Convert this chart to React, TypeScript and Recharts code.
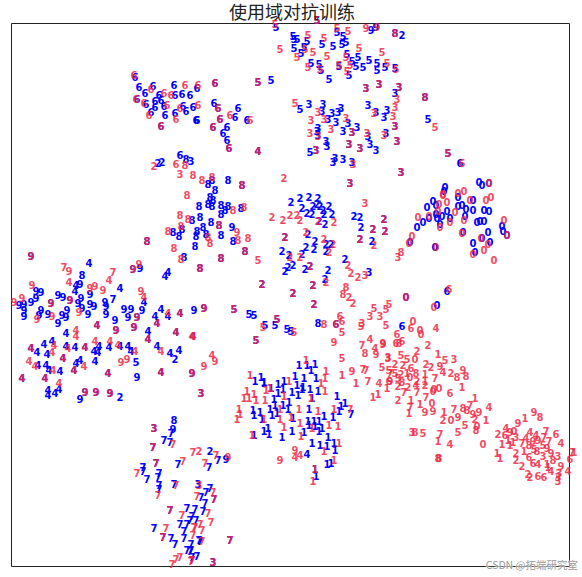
import { ScatterChart, Scatter, XAxis, YAxis, ReferenceArea } from "recharts";

type Pt = [number, number];

// source domain (blue)
const source0: Pt[] = [[444,191],[445,187],[433,201],[458,197],[427,207],[436,205],[458,206],[462,205],[466,209],[473,200],[473,210],[484,210],[489,211],[447,211],[442,216],[436,214],[437,218],[429,218],[423,222],[417,227],[450,218],[465,216],[477,222],[480,221],[484,221],[440,224],[463,232],[488,232],[473,243],[482,238],[490,242],[475,252],[502,226],[503,231],[507,235],[410,242],[435,247],[406,297],[437,305],[479,182],[482,185],[489,183]];
const source1: Pt[] = [[299,365],[307,365],[315,364],[311,370],[295,376],[304,378],[316,378],[261,377],[255,381],[264,382],[278,384],[284,381],[297,385],[303,387],[264,383],[271,388],[283,389],[278,393],[302,389],[310,389],[298,395],[318,391],[337,396],[292,392],[274,399],[275,405],[283,405],[289,402],[288,409],[270,409],[253,410],[254,415],[260,412],[262,419],[272,415],[277,413],[293,418],[309,409],[312,398],[345,403],[341,406],[339,411],[333,417],[324,416],[308,421],[314,421],[319,421],[309,425],[315,426],[322,428],[319,431],[304,432],[292,431],[282,437],[269,434],[264,431],[268,428],[254,435],[328,437],[312,443],[320,445],[327,446],[334,443],[335,450],[327,464],[331,463],[315,469],[316,476]];
const source2: Pt[] = [[158,163],[162,162],[402,35],[175,359],[120,397],[210,451],[300,198],[309,197],[318,198],[291,202],[302,208],[313,206],[317,204],[320,206],[329,206],[323,210],[307,213],[312,214],[324,214],[332,214],[354,216],[360,217],[319,221],[325,224],[361,227],[308,234],[285,237],[315,241],[326,244],[331,244],[372,241],[306,247],[314,249],[326,251],[282,251],[289,255],[302,254],[345,259],[293,265],[288,267],[285,271],[305,269],[328,270],[325,279],[310,266],[373,229],[384,219],[385,231],[360,239],[313,285],[262,284],[293,293],[314,304]];
const source3: Pt[] = [[191,161],[366,88],[379,84],[309,104],[323,104],[322,111],[332,113],[338,112],[341,108],[328,119],[336,122],[348,123],[368,105],[376,112],[387,110],[384,117],[357,127],[343,131],[352,132],[368,136],[386,133],[370,144],[376,150],[318,128],[317,131],[318,135],[326,141],[327,146],[316,150],[335,158],[333,162],[343,159],[352,162],[360,148],[349,144],[350,183],[399,87],[395,93],[395,126],[397,141],[401,172],[369,272],[198,484],[201,393],[154,428],[213,562]];
const source4: Pt[] = [[258,151],[89,263],[168,272],[165,276],[76,285],[75,291],[120,288],[144,302],[161,309],[155,316],[168,316],[180,313],[157,323],[148,331],[148,339],[97,325],[66,333],[52,341],[44,344],[31,348],[37,352],[47,354],[66,346],[75,347],[85,347],[99,346],[94,351],[98,352],[109,347],[120,346],[128,346],[131,351],[157,346],[170,353],[179,350],[63,358],[38,365],[46,365],[49,370],[60,371],[80,360],[76,363],[74,370],[95,361],[108,373],[161,372],[22,378],[45,378],[48,390],[48,395],[55,393],[59,389],[176,332],[193,336],[307,454]];
const source5: Pt[] = [[276,27],[317,20],[293,36],[294,39],[297,39],[307,41],[294,48],[304,47],[301,53],[322,44],[333,46],[337,32],[343,36],[342,44],[346,42],[347,54],[352,61],[358,57],[356,66],[363,67],[369,60],[377,63],[377,70],[385,67],[311,63],[319,64],[329,79],[349,75],[339,66],[321,70],[271,80],[258,82],[300,109],[310,152],[395,68],[428,119],[448,153],[136,362],[234,309],[249,314],[254,315],[265,325],[275,325],[277,319],[287,329],[291,331],[256,340]];
const source6: Pt[] = [[135,77],[139,87],[145,93],[153,86],[159,95],[155,101],[161,100],[155,107],[164,106],[146,104],[137,99],[151,112],[165,115],[175,113],[174,85],[175,95],[182,94],[190,95],[197,88],[183,106],[186,111],[193,107],[197,120],[161,126],[180,155],[215,83],[214,103],[218,108],[238,108],[235,117],[247,120],[196,120],[220,119],[213,127],[227,127],[223,133],[227,140],[229,148],[460,163],[447,291],[402,326],[336,324]];
const source7: Pt[] = [[113,299],[171,433],[164,440],[170,442],[153,447],[178,464],[156,463],[143,467],[143,471],[147,479],[159,473],[158,477],[159,485],[159,489],[174,484],[170,510],[187,508],[195,509],[192,516],[190,520],[196,520],[187,524],[180,524],[154,528],[184,531],[184,538],[163,537],[171,538],[175,544],[191,544],[187,550],[190,551],[197,556],[199,540],[192,560],[351,414],[218,460],[209,467],[210,488],[206,492],[201,497],[214,499],[205,503],[203,511],[230,540],[200,541],[191,550],[192,557]];
const source8: Pt[] = [[395,33],[425,97],[186,159],[208,184],[212,180],[215,190],[228,180],[242,185],[210,197],[213,200],[208,204],[212,206],[199,206],[221,205],[228,206],[225,210],[221,214],[241,208],[200,217],[192,220],[211,222],[219,225],[203,227],[197,231],[196,236],[206,234],[221,235],[195,246],[233,241],[245,251],[221,258],[200,268],[182,229],[173,232],[179,236],[147,241],[184,257],[82,275],[318,323],[174,420]];
const source9: Pt[] = [[371,30],[376,27],[31,256],[133,269],[140,268],[80,284],[90,294],[36,291],[41,292],[19,305],[24,304],[31,302],[36,298],[24,310],[24,316],[58,295],[63,297],[51,303],[70,300],[81,298],[78,303],[82,308],[90,304],[94,306],[105,302],[106,306],[41,310],[39,315],[48,314],[67,310],[62,315],[66,317],[88,314],[106,314],[58,323],[115,320],[124,309],[131,309],[142,310],[128,317],[137,317],[134,327],[116,330],[194,310],[137,377],[192,373],[204,308],[85,392],[96,392],[110,393],[80,399],[173,429],[226,459],[232,227]];

// target domain (red)
const target0: Pt[] = [[443,195],[443,194],[458,193],[464,191],[439,204],[447,202],[438,211],[455,212],[470,200],[486,200],[491,197],[418,217],[429,216],[450,222],[440,227],[464,220],[504,220],[412,236],[409,243],[462,233],[481,238],[488,244],[484,250],[473,254],[494,260],[507,235],[436,247],[406,297],[434,307],[413,321],[420,330],[421,334],[415,359],[410,377],[434,389],[439,388],[433,391],[432,403],[451,420],[477,426],[483,444],[514,431],[489,183]];
const target1: Pt[] = [[438,354],[407,373],[425,374],[425,381],[387,388],[462,387],[475,398],[411,400],[420,404],[409,413],[444,412],[486,420],[438,441],[525,418],[508,440],[502,444],[510,445],[513,442],[497,453],[500,458],[524,451],[574,452],[547,464],[548,467],[306,360],[326,371],[325,378],[321,383],[250,375],[289,381],[270,388],[247,391],[266,390],[244,398],[249,398],[254,394],[256,400],[265,400],[284,396],[239,409],[240,414],[237,419],[264,419],[280,409],[280,419],[291,417],[299,409],[300,423],[318,411],[334,409],[284,427],[312,428],[329,425],[338,426],[301,436],[252,435],[339,443],[324,451],[334,460],[315,469],[313,481],[325,391],[311,398],[373,397],[378,394],[356,383],[342,375]];
const target2: Pt[] = [[154,166],[199,451],[284,178],[272,217],[283,220],[290,215],[297,215],[300,220],[318,221],[334,222],[384,219],[373,229],[385,231],[360,239],[374,245],[306,232],[324,239],[333,244],[329,252],[290,257],[300,257],[285,237],[348,265],[351,273],[358,277],[310,266],[326,282],[313,285],[262,284],[293,293],[314,304],[349,297],[353,303],[428,345],[417,351],[395,364],[403,365],[426,364],[431,367],[451,373],[401,374],[417,381],[425,385],[398,386],[408,387],[398,400],[443,420],[475,419],[498,434],[516,453],[516,460],[522,466],[528,474],[530,477]];
const target3: Pt[] = [[180,174],[318,112],[311,120],[324,119],[346,118],[331,129],[310,133],[318,136],[352,132],[367,133],[384,135],[349,144],[360,148],[316,150],[353,164],[374,113],[350,183],[366,88],[379,84],[399,87],[397,99],[395,107],[393,116],[395,126],[397,141],[401,172],[365,203],[365,275],[398,257],[370,316],[380,316],[362,323],[388,357],[388,358],[454,359],[412,432],[516,437],[558,456],[543,456],[559,473],[558,477],[558,481],[154,428],[201,393],[199,485],[213,562]];
const target4: Pt[] = [[258,151],[69,282],[109,280],[144,297],[168,313],[180,313],[157,323],[176,332],[193,336],[148,339],[97,325],[76,330],[76,336],[54,345],[31,348],[52,352],[68,348],[85,347],[95,341],[110,341],[118,345],[135,351],[161,351],[63,358],[29,361],[35,366],[53,370],[84,366],[74,370],[108,373],[161,372],[22,378],[45,378],[59,383],[192,336],[212,355],[370,339],[375,348],[379,383],[436,328],[443,372],[416,385],[489,407],[450,444],[506,428],[530,432],[536,435],[561,443],[526,438],[538,464],[551,471],[568,471],[295,457],[300,455]];
const target5: Pt[] = [[275,24],[317,20],[308,35],[324,38],[337,28],[348,31],[359,48],[382,52],[387,63],[280,49],[305,49],[313,52],[297,57],[327,56],[346,57],[350,65],[308,67],[320,69],[339,65],[347,71],[258,82],[295,103],[396,69],[435,127],[448,153],[258,260],[389,304],[386,309],[386,325],[374,308],[361,326],[234,309],[277,319],[263,327],[294,332],[256,340],[342,332],[342,358],[382,367],[389,370],[401,355],[407,359],[445,360],[395,373],[398,378],[423,433],[465,425],[458,432],[534,449],[543,445]];
const target6: Pt[] = [[134,75],[151,89],[164,93],[171,95],[185,85],[198,85],[136,99],[144,103],[167,105],[180,108],[149,115],[176,119],[198,105],[161,126],[176,164],[215,83],[218,108],[230,115],[250,120],[220,119],[213,127],[229,148],[462,163],[449,289],[411,328],[397,334],[402,341],[396,343],[340,316],[342,321],[336,324],[411,368],[389,381],[450,393],[505,435],[556,434],[529,457],[570,459],[533,463],[538,476],[544,477]];
const target7: Pt[] = [[64,267],[113,272],[173,444],[153,447],[193,452],[183,461],[156,463],[137,473],[158,495],[176,485],[197,496],[170,510],[182,515],[166,528],[195,527],[193,535],[163,537],[180,557],[176,559],[172,564],[192,560],[362,345],[363,369],[366,370],[368,381],[350,409],[216,455],[205,463],[213,492],[214,499],[208,513],[211,522],[200,524],[202,530],[194,527],[230,540],[202,541],[191,561],[390,373],[435,378],[404,392],[417,392],[426,397],[410,407],[454,409],[470,405],[440,434],[546,431],[544,437],[549,441],[522,443],[572,452]];
const target8: Pt[] = [[395,33],[425,97],[185,165],[193,175],[187,195],[202,180],[212,177],[242,185],[233,210],[244,207],[219,225],[208,237],[210,243],[238,240],[248,238],[245,251],[221,258],[200,268],[180,215],[188,219],[181,226],[168,231],[147,241],[174,248],[181,259],[324,324],[346,287],[343,294],[365,353],[401,252],[399,343],[402,382],[416,373],[457,377],[466,376],[463,408],[467,410],[476,430],[415,432],[438,458],[439,458],[540,417],[529,445],[537,451],[553,460]];
const target9: Pt[] = [[366,28],[377,27],[31,256],[69,271],[139,264],[133,269],[32,285],[90,288],[95,286],[103,290],[141,291],[14,302],[22,298],[51,303],[70,300],[79,312],[37,319],[52,316],[137,317],[134,327],[116,330],[121,362],[127,359],[192,373],[85,392],[96,392],[110,393],[204,308],[237,232],[204,366],[215,361],[228,457],[295,450],[280,460],[352,371],[334,342],[383,344],[376,354],[383,343],[390,381],[440,366],[463,370],[425,412],[433,411],[458,417],[473,414],[479,412],[534,412],[518,423],[510,432],[538,440],[533,441],[547,448],[551,453],[561,466]];

const digits = ["0", "1", "2", "3", "4", "5", "6", "7", "8", "9"];
const sourceGroups = [source0, source1, source2, source3, source4, source5, source6, source7, source8, source9];
const targetGroups = [target0, target1, target2, target3, target4, target5, target6, target7, target8, target9];

const toRows = (groups: Pt[][]) =>
  groups.flatMap((pts, i) => pts.map(([x, y]) => ({ x, y, digit: digits[i] })));

const sourceRows = toRows(sourceGroups);
const targetRows = toRows(targetGroups);

const Digit = ({ cx, cy, payload, fill, opacity }: any) => (
  <text
    x={cx}
    y={cy}
    dy="0.36em"
    textAnchor="middle"
    fontFamily="DejaVu Sans"
    fontWeight="bold"
    fontSize={10}
    fill={fill}
    fillOpacity={opacity}
  >
    {payload.digit}
  </text>
);

export default function App() {
  return (
    <div style={{ position: "absolute", left: 0, top: 0, width: 582, height: 577, overflow: "hidden" }}>
      <ScatterChart width={582} height={577} margin={{ top: 0, right: 0, left: 0, bottom: 0 }}>
        <XAxis type="number" dataKey="x" domain={[0, 582]} hide />
        <YAxis type="number" dataKey="y" domain={[0, 577]} reversed hide />
        <ReferenceArea x1={11.5} x2={569.5} y1={23.5} y2={566.5} fill="none" stroke="#222" strokeWidth={1} fillOpacity={0} />
        <Scatter data={sourceRows} isAnimationActive={false} shape={<Digit fill="#0000ff" opacity={1} />} />
        <Scatter data={targetRows} isAnimationActive={false} shape={<Digit fill="#f02846" opacity={0.85} />} />
      </ScatterChart>
      <div
        style={{
          position: "absolute",
          left: 1,
          width: 582,
          top: 0,
          textAlign: "center",
          fontFamily: "Noto Sans CJK SC",
          fontSize: 18,
          lineHeight: "23px",
          color: "#222",
        }}
      >
        使用域对抗训练
      </div>
      <div
        style={{
          position: "absolute",
          right: 4,
          top: 558,
          fontFamily: "Noto Sans CJK SC",
          fontSize: 10.5,
          lineHeight: "14px",
          color: "#999",
          textShadow: "0 0 2px #fff, 0 0 2px #fff",
        }}
      >
        CSDN @拓端研究室
      </div>
    </div>
  );
}
